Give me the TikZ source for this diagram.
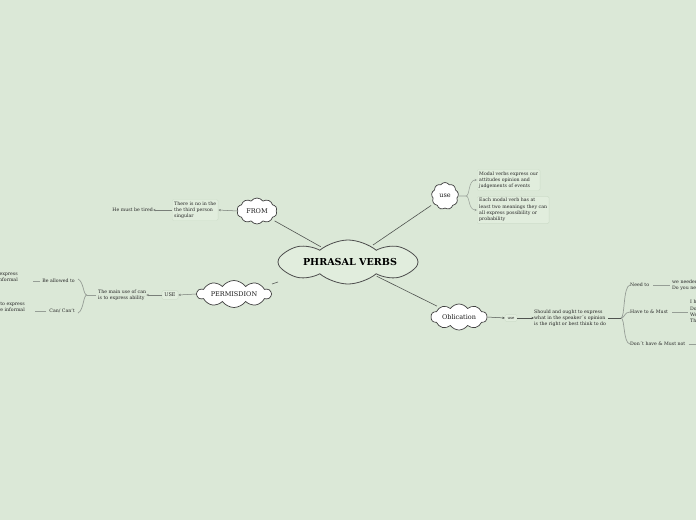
\documentclass[tikz,border=0pt]{standalone}
\usepackage{fontspec}
\setmainfont{DejaVu Serif}
\usetikzlibrary{shapes.symbols,arrows.meta,calc}
\definecolor{bg}{RGB}{219,232,215}
\definecolor{boxfill}{RGB}{225,237,221}
\definecolor{boxline}{RGB}{206,221,202}
\definecolor{lin}{RGB}{80,84,80}
\definecolor{brk}{RGB}{150,158,150}
\begin{document}
\begin{tikzpicture}[x=1pt,y=-1pt,
  cl/.style={cloud, cloud puffs=#1, cloud puff arc=110, draw=black!75, fill=white, line width=0.7pt, inner sep=0pt, cloud ignores aspect},
  lab/.style={font=\fontsize{6.5}{7}\selectfont, text=black!90},
  sm/.style={font=\fontsize{4.7}{6.2}\selectfont, align=left, inner sep=0pt, text=black!85},
  bx/.style={sm, fill=boxfill, draw=boxline, rounded corners=1.5pt, inner sep=2pt},
  con/.style={draw=lin, line width=0.6pt},
  arr/.style={draw=brk!80!black, line width=0.5pt, -{Stealth[length=2.5pt,width=2.2pt]}},
  ln/.style={draw=brk, line width=0.7pt}]
\fill[bg] (0,0) rectangle (696,520);
\useasboundingbox (0,0) rectangle (696,520);
\clip (0,0) rectangle (696,520);

% central
\node[cl=8, cloud puff arc=80, fill=boxfill, line width=0.8pt, draw=black!70, minimum width=140pt, minimum height=44pt,
      font=\fontsize{9.6}{10}\bfseries\selectfont] (c) at (348,262) {\hspace*{4pt}PHRASAL VERBS};

% FROM branch
\node[cl=10, minimum width=40pt, minimum height=26pt, lab] (from) at (257,211) {FROM};
\node[bx, anchor=west] (fb) at (172,210) {There is no in the\\the third person\\singular};
\node[sm, anchor=east] (tired) at (153,210) {He must be tired};
\draw[con, shorten <=2pt, shorten >=3pt] (c) -- (from);
\draw[arr] (from.west) -- (fb.east);
\draw[arr] (fb.west) -- (tired.east);

% use branch
\node[cl=9, minimum width=27pt, minimum height=27pt, lab] (use) at (445,196) {use};
\node[bx, anchor=west] (u1) at (477,180) {Modal verbs express our\\attitudes opinion and\\judgements of events};
\node[bx, anchor=west] (u2) at (477,210) {Each modal verb has at\\least two meanings they can\\all express possibility or\\probability};
\draw[con, shorten <=2pt, shorten >=3pt] (c) -- (use);
\coordinate (uj) at (466,196);
\draw[ln] (use.east) -- (uj);
\draw[arr, draw=brk] (uj) .. controls (470,196) and (468,180) .. (u1.west);
\draw[arr, draw=brk] (uj) .. controls (470,196) and (468,210) .. (u2.west);

% Oblication branch
\node[cl=10, minimum width=56pt, minimum height=26pt, lab] (obl) at (459,317) {Oblication};
\node[bx, inner sep=2.5pt, font=\fontsize{4}{5}\selectfont] (ou) at (511,318) {use};
\node[sm, anchor=west] (sh) at (534,318) {Should and ought to express\\what in the speaker´s opinion\\is the right or best think to do};
\draw[con, shorten <=2pt, shorten >=3pt] (c) -- (obl);
\draw[arr, draw=lin] (obl.east) -- (ou.west);
\draw[arr, draw=lin] (ou.east) -- (sh.west);
\coordinate (oj) at (621,318);
\draw[con] ($(sh.east)+(2,0)$) -- (oj);
\node[sm, anchor=west] (need) at (630,285) {Need to};
\node[sm, anchor=west] (needt) at (672,285) {we needed\\Do you need};
\node[sm, anchor=west] (have) at (630,312) {Have to \& Must};
\node[sm, anchor=west] (havet) at (690,312) {I have\\Do\\We\\They};
\node[sm, anchor=west] (dont) at (630,344) {Don´t have \& Must not};
\coordinate (dontt) at (697,344);
\draw[ln] (oj) .. controls (625,318) and (623,286) .. (need.west);
\draw[ln] (oj) .. controls (625,318) and (624,312) .. (have.west);
\draw[ln] (oj) .. controls (625,318) and (623,343) .. (dont.west);
\draw[ln] ($(need.east)+(4,0)$) -- ($(needt.west)+(-2,0)$);
\draw[ln] ($(have.east)+(4,0)$) -- ($(havet.west)+(-2,0)$);
\draw[ln] ($(dont.east)+(3,0)$) -- (dontt);

% PERMISDION branch
\node[cl=10, minimum width=74pt, minimum height=27pt, lab] (perm) at (234,294) {PERMISDION};
\coordinate (pa) at (272,284);
\coordinate (pb) at (278,282);
\draw[con] (pa) -- (pb);
\node[bx, inner sep=2.5pt, font=\fontsize{5}{6}\selectfont] (puse) at (170,295) {USE};
\node[sm, anchor=west] (mu) at (98,295) {The main use of can\\is to express ability};
\draw[arr] (perm.west) -- (puse.east);
\draw[arr] (puse.west) -- (mu.east);
\coordinate (pj) at (87,295);
\draw[ln] ($(mu.west)+(-2,0)$) -- (pj);
\node[sm, anchor=east] (ba) at (75,281) {Be allowed to};
\node[sm, anchor=east] (ca) at (75,311) {Can/ Can't};
\draw[ln] (pj) .. controls (83,295) and (84,282) .. ($(ba.east)+(3,-2)$);
\draw[ln] (pj) .. controls (83,295) and (84,310) .. ($(ca.east)+(3,2)$);
\node[sm, anchor=east, align=right] (bat) at (18,277.5) {Used to express\\permission informal};
\node[sm, anchor=east, align=right] (cat) at (25,307.5) {Used to express\\permission more informal};
\draw[ln] ($(ba.west)+(-2,0)$) -- ($(bat.east |- ba.west)+(15,0)$);
\draw[ln] ($(ca.west)+(-3,0)$) -- ($(cat.east |- ca.west)+(10,0)$);
\end{tikzpicture}
\end{document}
